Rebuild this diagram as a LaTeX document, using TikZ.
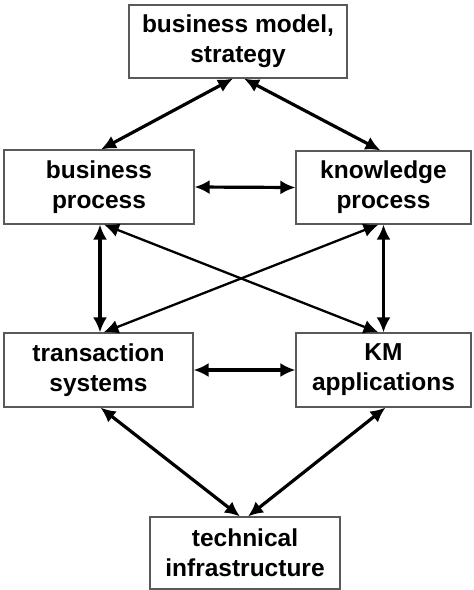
\documentclass[tikz,border=0pt]{standalone}
\usepackage{fontspec}
\setmainfont{Liberation Sans}
\usetikzlibrary{arrows.meta}
\begin{document}
\begin{tikzpicture}[x=1pt,y=-1pt,
  box/.style={draw=black!65,line width=1.1pt,rectangle,inner sep=0pt,align=center,
    font=\fontsize{24.5}{30}\selectfont\bfseries},
  link/.style={line width=3.2pt,{Latex[length=15pt,width=14pt]}-{Latex[length=15pt,width=14pt]}},
  thin link/.style={link,line width=2.3pt}]
\useasboundingbox (0,0) rectangle (474,590);
\node[box,minimum width=218pt,minimum height=73pt] (top) at (238,41.5) {business model,\\strategy};
\node[box,minimum width=190pt,minimum height=74pt] (bp) at (99,187) {business\\process};
\node[box,minimum width=175pt,minimum height=73pt] (kp) at (383.5,187.5) {knowledge\\process};
\node[box,minimum width=189pt,minimum height=74pt] (ts) at (98.5,370) {transaction\\systems};
\node[box,minimum width=175pt,minimum height=74pt] (km) at (383.5,370) {KM\\applications};
\node[box,minimum width=190pt,minimum height=72pt] (ti) at (245,553) {technical\\infrastructure};

\draw[link] ([xshift=-5pt]top.south) -- ([xshift=2pt]bp.north);
\draw[link] ([xshift=6pt]top.south) -- ([xshift=-3pt]kp.north);
\draw[link] (bp.east) -- (kp.west);
\draw[link] ([xshift=1pt]bp.south) -- ([xshift=1.5pt]ts.north);
\draw[link] (kp.south) -- (km.north);
\draw[thin link] ([xshift=5pt]bp.south) -- ([xshift=-5pt]km.north);
\draw[thin link] ([xshift=-5pt]kp.south) -- ([xshift=5pt]ts.north);
\draw[link] (ts.east) -- (km.west);
\draw[link] ([xshift=2pt]ts.south) -- ([xshift=-5pt]ti.north);
\draw[link] ([xshift=2pt]km.south) -- ([xshift=3pt]ti.north);
\end{tikzpicture}
\end{document}
